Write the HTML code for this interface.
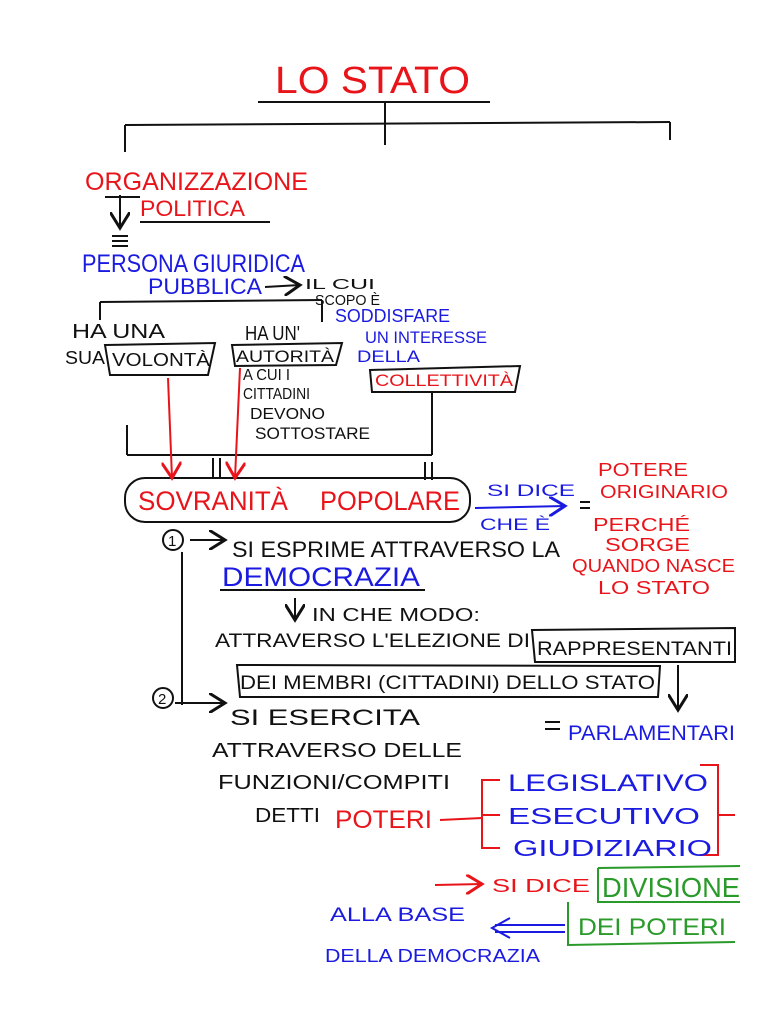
<!DOCTYPE html>
<html><head><meta charset="utf-8"><style>
html,body{margin:0;padding:0;background:#fff;}
svg{display:block}
text{font-family:"Liberation Sans",sans-serif;}
.k{fill:#111}.r{fill:#e8141a}.b{fill:#1a1ae0}.g{fill:#2a9a2a}
</style></head><body>
<svg width="768" height="1024" viewBox="0 0 768 1024" xmlns="http://www.w3.org/2000/svg">
<defs>
<marker id="ak" markerWidth="10" markerHeight="10" refX="8" refY="5" orient="auto"><path d="M0,0 L8,5 L0,10" fill="none" stroke="#111" stroke-width="1.5"/></marker>
<marker id="ar" markerWidth="10" markerHeight="10" refX="8" refY="5" orient="auto"><path d="M0,0 L8,5 L0,10" fill="none" stroke="#e8141a" stroke-width="1.5"/></marker>
<marker id="ab" markerWidth="10" markerHeight="10" refX="8" refY="5" orient="auto"><path d="M0,0 L8,5 L0,10" fill="none" stroke="#1a1ae0" stroke-width="1.5"/></marker>
</defs>
<g stroke="#111" stroke-width="2" fill="none">
<line x1="258" y1="102" x2="490" y2="102"/>
<line x1="385" y1="102" x2="385" y2="125"/>
<line x1="125" y1="125" x2="670" y2="122"/>
<line x1="125" y1="125" x2="125" y2="152"/>
<line x1="385" y1="125" x2="385" y2="145"/>
<line x1="670" y1="122" x2="670" y2="140"/>
<line x1="105" y1="197" x2="140" y2="197"/>
<line x1="140" y1="222" x2="270" y2="222"/>
<line x1="120" y1="195" x2="120" y2="228" marker-end="url(#ak)"/>
<line x1="112" y1="236" x2="128" y2="236"/><line x1="112" y1="241" x2="128" y2="241"/><line x1="112" y1="246" x2="128" y2="246"/>
<line x1="265" y1="287" x2="300" y2="285" marker-end="url(#ak)"/>
<line x1="100" y1="302" x2="322" y2="300"/>
<line x1="100" y1="302" x2="100" y2="320"/><line x1="322" y1="300" x2="322" y2="322"/>
<path d="M105,345 L215,343 L208,375 L110,375 Z"/>
<path d="M232,345 L342,343 L336,365 L235,366 Z"/>
<path d="M370,370 L520,366 L515,392 L372,392 Z"/>
<line x1="127" y1="425" x2="127" y2="455"/>
<line x1="432" y1="393" x2="432" y2="455"/>
<line x1="127" y1="455" x2="432" y2="455"/>
<line x1="213" y1="458" x2="213" y2="478"/><line x1="220" y1="458" x2="220" y2="478"/>
<line x1="425" y1="462" x2="425" y2="480"/><line x1="432" y1="462" x2="432" y2="480"/>
<rect x="125" y="478" width="345" height="44" rx="20"/>
<line x1="580" y1="502" x2="590" y2="502"/><line x1="580" y1="508" x2="590" y2="508"/>
<circle cx="173" cy="540" r="10"/>
<line x1="182" y1="552" x2="182" y2="705"/>
<line x1="190" y1="540" x2="225" y2="540" marker-end="url(#ak)"/>
<line x1="220" y1="590" x2="425" y2="590"/>
<line x1="295" y1="598" x2="295" y2="620" marker-end="url(#ak)"/>
<path d="M532,630 L735,628 L735,662 L535,662 Z"/>
<path d="M237,665 L660,666 L658,697 L240,697 Z"/>
<line x1="678" y1="665" x2="678" y2="710" marker-end="url(#ak)"/>
<circle cx="163" cy="698" r="10"/>
<line x1="175" y1="703" x2="225" y2="703" marker-end="url(#ak)"/>
<line x1="545" y1="722" x2="560" y2="722"/><line x1="545" y1="729" x2="560" y2="729"/>
</g>
<g stroke="#e8141a" stroke-width="2" fill="none">
<line x1="168" y1="378" x2="172" y2="478" marker-end="url(#ar)"/>
<line x1="240" y1="368" x2="235" y2="478" marker-end="url(#ar)"/>
<line x1="440" y1="820" x2="482" y2="818"/>
<path d="M500,780 L482,780 L482,848 L500,848"/>
<line x1="482" y1="815" x2="500" y2="815"/>
<path d="M700,765 L718,765 L718,855 L700,855"/>
<line x1="718" y1="815" x2="735" y2="815"/>
<line x1="435" y1="885" x2="482" y2="884" marker-end="url(#ar)"/>
</g>
<g stroke="#1a1ae0" stroke-width="2" fill="none">
<line x1="475" y1="508" x2="565" y2="506" marker-end="url(#ab)"/>
<line x1="565" y1="925" x2="495" y2="925"/><line x1="565" y1="932" x2="495" y2="932"/>
<path d="M510,918 L492,928 L510,938"/>
</g>
<g stroke="#2a9a2a" stroke-width="2" fill="none">
<path d="M598,868 L740,866 M598,868 L598,902 L740,902"/>
<path d="M568,902 L568,945 L735,942"/>
</g>

<text class="r" x="275" y="93" font-size="38" textLength="195" lengthAdjust="spacingAndGlyphs">LO STATO</text>
<text class="r" x="85" y="190" font-size="25" textLength="223" lengthAdjust="spacingAndGlyphs">ORGANIZZAZIONE</text>
<text class="r" x="140" y="216" font-size="22" textLength="105" lengthAdjust="spacingAndGlyphs">POLITICA</text>
<text class="b" x="82" y="272" font-size="25" textLength="223" lengthAdjust="spacingAndGlyphs">PERSONA GIURIDICA</text>
<text class="b" x="148" y="294" font-size="22" textLength="114" lengthAdjust="spacingAndGlyphs">PUBBLICA</text>
<text class="k" x="305" y="289" font-size="15" textLength="70" lengthAdjust="spacingAndGlyphs">IL CUI</text>
<text class="k" x="315" y="305" font-size="15" textLength="65" lengthAdjust="spacingAndGlyphs">SCOPO È</text>
<text class="b" x="335" y="322" font-size="18" textLength="115" lengthAdjust="spacingAndGlyphs">SODDISFARE</text>
<text class="b" x="365" y="343" font-size="17" textLength="122" lengthAdjust="spacingAndGlyphs">UN INTERESSE</text>
<text class="b" x="357" y="362" font-size="17" textLength="63" lengthAdjust="spacingAndGlyphs">DELLA</text>
<text class="r" x="375" y="386" font-size="17" textLength="138" lengthAdjust="spacingAndGlyphs">COLLETTIVITÀ</text>
<text class="k" x="72" y="338" font-size="20" textLength="93" lengthAdjust="spacingAndGlyphs">HA UNA</text>
<text class="k" x="65" y="364" font-size="18" textLength="40" lengthAdjust="spacingAndGlyphs">SUA</text>
<text class="k" x="112" y="366" font-size="18" textLength="98" lengthAdjust="spacingAndGlyphs">VOLONTÀ</text>
<text class="k" x="245" y="340" font-size="20" textLength="55" lengthAdjust="spacingAndGlyphs">HA UN'</text>
<text class="k" x="236" y="362" font-size="17" textLength="98" lengthAdjust="spacingAndGlyphs">AUTORITÀ</text>
<text class="k" x="243" y="380" font-size="16" textLength="47" lengthAdjust="spacingAndGlyphs">A CUI I</text>
<text class="k" x="243" y="399" font-size="16" textLength="67" lengthAdjust="spacingAndGlyphs">CITTADINI</text>
<text class="k" x="250" y="419" font-size="16" textLength="75" lengthAdjust="spacingAndGlyphs">DEVONO</text>
<text class="k" x="255" y="439" font-size="17" textLength="115" lengthAdjust="spacingAndGlyphs">SOTTOSTARE</text>
<text class="r" x="138" y="510" font-size="27" textLength="150" lengthAdjust="spacingAndGlyphs">SOVRANITÀ</text>
<text class="r" x="320" y="510" font-size="27" textLength="140" lengthAdjust="spacingAndGlyphs">POPOLARE</text>
<text class="b" x="487" y="496" font-size="17" textLength="88" lengthAdjust="spacingAndGlyphs">SI DICE</text>
<text class="b" x="480" y="530" font-size="17" textLength="70" lengthAdjust="spacingAndGlyphs">CHE È</text>
<text class="r" x="598" y="476" font-size="18" textLength="90" lengthAdjust="spacingAndGlyphs">POTERE</text>
<text class="r" x="600" y="498" font-size="18" textLength="128" lengthAdjust="spacingAndGlyphs">ORIGINARIO</text>
<text class="r" x="593" y="531" font-size="18" textLength="97" lengthAdjust="spacingAndGlyphs">PERCHÉ</text>
<text class="r" x="605" y="551" font-size="18" textLength="85" lengthAdjust="spacingAndGlyphs">SORGE</text>
<text class="r" x="572" y="572" font-size="18" textLength="163" lengthAdjust="spacingAndGlyphs">QUANDO NASCE</text>
<text class="r" x="598" y="594" font-size="18" textLength="112" lengthAdjust="spacingAndGlyphs">LO STATO</text>
<text class="k" x="168" y="546" font-size="15">1</text>
<text class="k" x="232" y="557" font-size="22" textLength="328" lengthAdjust="spacingAndGlyphs">SI ESPRIME ATTRAVERSO LA</text>
<text class="b" x="222" y="586" font-size="27" textLength="198" lengthAdjust="spacingAndGlyphs">DEMOCRAZIA</text>
<text class="k" x="312" y="621" font-size="18" textLength="168" lengthAdjust="spacingAndGlyphs">IN CHE MODO:</text>
<text class="k" x="215" y="647" font-size="19" textLength="315" lengthAdjust="spacingAndGlyphs">ATTRAVERSO L'ELEZIONE DI</text>
<text class="k" x="537" y="655" font-size="19" textLength="195" lengthAdjust="spacingAndGlyphs">RAPPRESENTANTI</text>
<text class="k" x="240" y="689" font-size="19" textLength="415" lengthAdjust="spacingAndGlyphs">DEI MEMBRI (CITTADINI) DELLO STATO</text>
<text class="k" x="158" y="704" font-size="15">2</text>
<text class="k" x="230" y="725" font-size="22" textLength="190" lengthAdjust="spacingAndGlyphs">SI ESERCITA</text>
<text class="b" x="568" y="740" font-size="21" textLength="167" lengthAdjust="spacingAndGlyphs">PARLAMENTARI</text>
<text class="k" x="212" y="757" font-size="20" textLength="250" lengthAdjust="spacingAndGlyphs">ATTRAVERSO DELLE</text>
<text class="k" x="218" y="789" font-size="20" textLength="232" lengthAdjust="spacingAndGlyphs">FUNZIONI/COMPITI</text>
<text class="k" x="255" y="822" font-size="20" textLength="65" lengthAdjust="spacingAndGlyphs">DETTI</text>
<text class="r" x="335" y="828" font-size="25" textLength="97" lengthAdjust="spacingAndGlyphs">POTERI</text>
<text class="b" x="508" y="791" font-size="24" textLength="200" lengthAdjust="spacingAndGlyphs">LEGISLATIVO</text>
<text class="b" x="508" y="824" font-size="23" textLength="192" lengthAdjust="spacingAndGlyphs">ESECUTIVO</text>
<text class="b" x="513" y="856" font-size="23" textLength="199" lengthAdjust="spacingAndGlyphs">GIUDIZIARIO</text>
<text class="r" x="492" y="892" font-size="18" textLength="98" lengthAdjust="spacingAndGlyphs">SI DICE</text>
<text class="g" x="602" y="897" font-size="28" textLength="138" lengthAdjust="spacingAndGlyphs">DIVISIONE</text>
<text class="g" x="578" y="935" font-size="24" textLength="148" lengthAdjust="spacingAndGlyphs">DEI POTERI</text>
<text class="b" x="330" y="921" font-size="19" textLength="135" lengthAdjust="spacingAndGlyphs">ALLA BASE</text>
<text class="b" x="325" y="962" font-size="18" textLength="215" lengthAdjust="spacingAndGlyphs">DELLA DEMOCRAZIA</text>
</svg>
</body></html>
